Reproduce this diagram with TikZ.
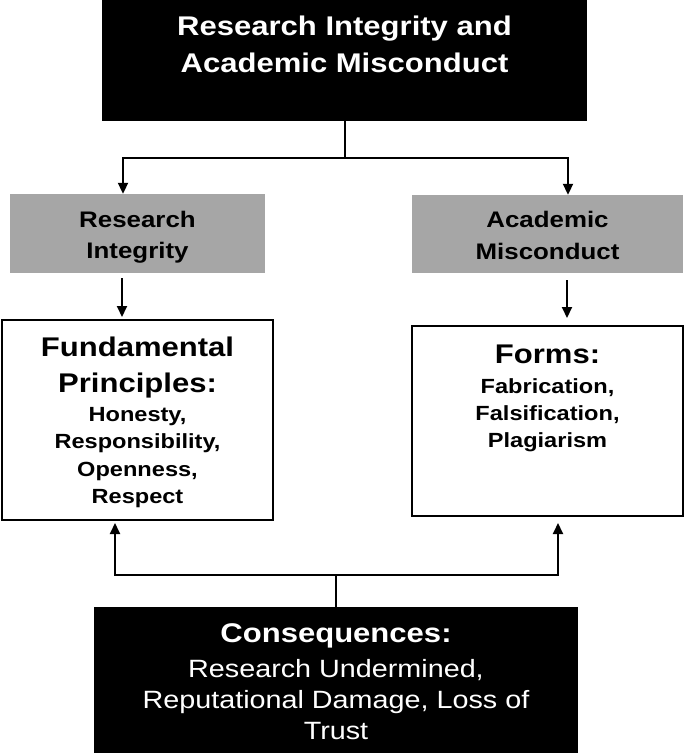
\documentclass[tikz,border=0pt]{standalone}
\usepackage{fontspec}
\setmainfont{Liberation Sans}[FakeStretch=1.15]
\usetikzlibrary{positioning,arrows.meta}
\definecolor{boxgray}{RGB}{166,166,166}
\tikzset{
  darkbox/.style={fill=black,inner sep=0},
  greybox/.style={fill=boxgray,inner sep=0},
  whitebox/.style={draw=black,line width=2pt,fill=white,inner sep=0},
  boxtext/.style={align=center,inner sep=0},
  link/.style={line width=2pt},
  arrow/.style={link,-{Triangle[length=11pt,width=10pt]}}
}

\begin{document}
\begin{tikzpicture}[x=1pt,y=-1pt]
\useasboundingbox (0,0) rectangle (685,755);
% boxes
\node[darkbox,minimum width=485,minimum height=121] (top) at (344.5,60.5) {};
\node[greybox,minimum width=255,minimum height=79] (grayL) at (137.5,233.5) {};
\node[greybox,minimum width=271,minimum height=78] (grayR) at (547.5,234) {};
\node[whitebox,minimum width=271,minimum height=200] (whiteL) at (137.5,420) {};
\node[whitebox,minimum width=271,minimum height=190] (whiteR) at (547.5,421) {};
\node[darkbox,minimum width=484,minimum height=146] (bottom) at (336,680) {};
% texts
\node[boxtext,text=white,font=\bfseries\fontsize{27}{37}\selectfont,below=15.6pt of top.north] (toptext) {Research Integrity and\\Academic Misconduct};
\node[boxtext,font=\bfseries\fontsize{22.5}{31}\selectfont,below=16.8pt of grayL.north] (grayLtext) {Research\\Integrity};
\node[boxtext,font=\bfseries\fontsize{22.5}{32}\selectfont,below=15.8pt of grayR.north] (grayRtext) {Academic\\Misconduct};
\node[boxtext,font=\bfseries\fontsize{27}{36}\selectfont,below=17.6pt of whiteL.north] (princhead) {Fundamental\\Principles:};
\node[boxtext,font=\bfseries\fontsize{20.5}{27.4}\selectfont,below=88pt of whiteL.north] (princlist) {Honesty,\\Responsibility,\\Openness,\\Respect};
\node[boxtext,font=\bfseries\fontsize{27}{36}\selectfont,below=19.6pt of whiteR.north] (formhead) {Forms:};
\node[boxtext,font=\bfseries\fontsize{20.5}{27}\selectfont,below=53.2pt of whiteR.north] (formlist) {Fabrication,\\Falsification,\\Plagiarism};
\node[boxtext,text=white,font=\bfseries\fontsize{27}{36}\selectfont,below=16.6pt of bottom.north] (conshead) {Consequences:};
\node[boxtext,text=white,font=\fontsize{25}{31}\selectfont,below=52pt of bottom.north] (conslist) {Research Undermined,\\Reputational Damage, Loss of\\Trust};
% connectors
\coordinate (topsplit) at (344.5,158);
\coordinate (botsplit) at (336,575);
\draw[link] (top.south) -- (topsplit);
\draw[arrow] (topsplit) -| ([xshift=-14.5pt]grayL.north);
\draw[arrow] (topsplit) -| ([xshift=20.5pt]grayR.north);
\draw[arrow,shorten <=5pt,shorten >=2pt] ([xshift=-15.5pt]grayL.south) -- ([xshift=-15.5pt]whiteL.north);
\draw[arrow,shorten <=7pt,shorten >=7pt] ([xshift=19.5pt]grayR.south) -- ([xshift=19.5pt]whiteR.north);
\draw[link] (bottom.north) -- (botsplit);
\draw[arrow,shorten >=2pt] (botsplit) -| ([xshift=-22.5pt]whiteL.south);
\draw[arrow,shorten >=6pt] (botsplit) -| ([xshift=10.5pt]whiteR.south);
\end{tikzpicture}
\end{document}
